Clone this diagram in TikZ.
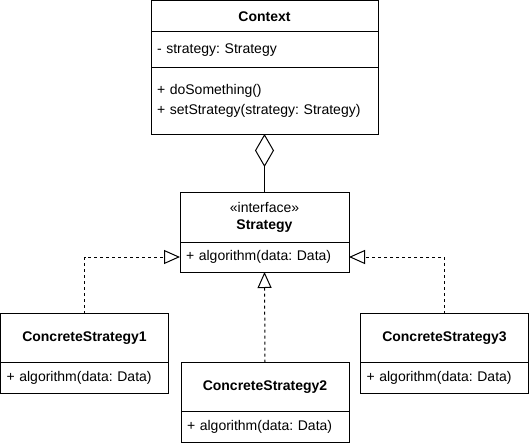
\documentclass[tikz,border=0pt]{standalone}
\usepackage{fontspec}
\setmainfont{Liberation Sans}
\frenchspacing
\usepackage{tikz}
\usetikzlibrary{positioning}
\usetikzlibrary{arrows.meta}
\tikzset{
    every picture/.append style={
        line width=1pt
    }
}
\tikzset{
    classhead/.style={draw=black, inner xsep=6pt, inner ysep=0pt, outer sep=0pt, align=center, font=\fontsize{14}{17}\selectfont\bfseries},
    classbody/.style={draw=black, inner xsep=6pt, inner ysep=0pt, outer sep=0pt, align=left, font=\fontsize{14}{20}\selectfont},
    realize/.style={dash pattern=on 3pt off 3pt, -{Triangle[open,length=16pt,width=14pt]}},
    aggregate/.style={{Diamond[open,length=33pt,width=19pt]}-},
}

\begin{document}
\begin{tikzpicture}[x=1pt, y=-1pt]
		\useasboundingbox (0,0) rectangle (530,444);
		
		\node[classhead, text width=215pt, minimum height=31pt, anchor=north west] (ctx) at (151,1) {Context};
		\node[classbody, text width=215pt, minimum height=36pt, below=0pt of ctx] (ctxattr) {- strategy: Strategy};
		\node[classbody, text width=215pt, minimum height=66pt, below=0pt of ctxattr] (ctxops) {+ doSomething()\\+ setStrategy(strategy: Strategy)};
		
		\node[classhead, text width=157pt, minimum height=50pt, anchor=north] (strat) at (264.5,192) {{\mdseries «interface»}\\Strategy};
		\node[classbody, text width=157pt, minimum height=30pt, below=0pt of strat] (stratops) {+ algorithm(data: Data)};
		
		\node[classhead, text width=156pt, minimum height=49pt, anchor=north west] (cs1) at (0.5,313.5) {ConcreteStrategy1};
		\node[classbody, text width=156pt, minimum height=31pt, below=0pt of cs1] (cs1ops) {+ algorithm(data: Data)};
		\node[classhead, text width=156pt, minimum height=49pt, anchor=north west] (cs2) at (181,362.5) {ConcreteStrategy2};
		\node[classbody, text width=156pt, minimum height=31pt, below=0pt of cs2] (cs2ops) {+ algorithm(data: Data)};
		\node[classhead, text width=156pt, minimum height=49pt, anchor=north west] (cs3) at (360.5,313.5) {ConcreteStrategy3};
		\node[classbody, text width=156pt, minimum height=31pt, below=0pt of cs3] (cs3ops) {+ algorithm(data: Data)};
		
		\draw [aggregate] (ctxops.south) -- (strat.north);
		\draw [realize] (cs1.north) |- (stratops.west);
		\draw [realize] (cs2.north) -- (stratops.south);
		\draw [realize] (cs3.north) |- (stratops.east);
		\end{tikzpicture}
\end{document}
